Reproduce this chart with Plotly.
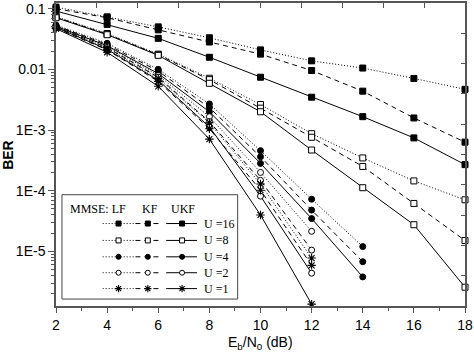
import plotly.graph_objects as go

# ---------------- data ----------------
ebn0 = [2, 4, 6, 8, 10, 12, 14, 16, 18]          # Eb/N0 (dB)

ber_u16_lf = [0.106, 0.0733, 0.0501, 0.0331, 0.0209, 0.0138, 0.0105, 0.00708, 0.00468]
ber_u16_kf = [0.100, 0.0708, 0.0447, 0.0282, 0.0178, 0.00955, 0.00437, 0.00158, 0.000631]
ber_u16_ukf = [0.0912, 0.0550, 0.0324, 0.0158, 0.00741, 0.00347, 0.00166, 0.000741, 0.000269]

ber_u8_lf = [0.0741, 0.0389, 0.0178, 0.00713, 0.00263, 0.000871, 0.000347, 0.000145, 7.08e-5]
ber_u8_kf = [0.0724, 0.0380, 0.0174, 0.00676, 0.00229, 0.000759, 0.000251, 6.17e-5, 1.51e-5]
ber_u8_ukf = [0.0708, 0.0372, 0.0170, 0.00589, 0.00200, 0.000468, 0.000112, 2.75e-5, 2.57e-6]

ber_u4_lf = [0.0537, 0.0269, 0.0100, 0.00269, 0.000457, 7.24e-5, 1.20e-5]
ber_u4_kf = [0.0525, 0.0257, 0.00933, 0.00234, 0.000363, 4.79e-5, 6.76e-6]
ber_u4_ukf = [0.0513, 0.0245, 0.00851, 0.00200, 0.000282, 3.47e-5, 3.80e-6]

ber_u2_lf = [0.0513, 0.0240, 0.00794, 0.00166, 0.000200, 2.14e-5]
ber_u2_kf = [0.0501, 0.0229, 0.00741, 0.00138, 0.000148, 1.05e-5]
ber_u2_ukf = [0.0490, 0.0214, 0.00661, 0.00112, 8.13e-5, 4.37e-6]

ber_u1_lf = [0.0501, 0.0224, 0.00708, 0.00132, 0.000129, 7.76e-6]
ber_u1_kf = [0.0479, 0.0209, 0.00631, 0.00105, 0.000102, 5.89e-6]
ber_u1_ukf = [0.0468, 0.0191, 0.00525, 0.000708, 3.98e-5, 1.35e-6]

u_labels = ["U =16", "U =8", "U =4", "U =2", "U =1"]
method_labels = ["LF", "KF", "UKF"]
y_tickvals = [1e-1, 1e-2, 1e-3, 1e-4, 1e-5]
y_ticktext = ["0.1", "0.01", "1E-3", "1E-4", "1E-5"]
x_tickvals = [2, 4, 6, 8, 10, 12, 14, 16, 18]

# ---------------- styles ----------------
markers = [
    dict(symbol="square", color="black", size=6, line=dict(color="black", width=1)),
    dict(symbol="square", color="white", size=6, line=dict(color="black", width=1)),
    dict(symbol="circle", color="black", size=6, line=dict(color="black", width=1)),
    dict(symbol="circle", color="white", size=6, line=dict(color="black", width=1)),
    dict(symbol="asterisk-open", color="black", size=7, line=dict(color="black", width=1.1)),
]
dashes = ["1px,2px", "5px,4px", "solid"]

series = [
    [ber_u16_lf, ber_u16_kf, ber_u16_ukf],
    [ber_u8_lf, ber_u8_kf, ber_u8_ukf],
    [ber_u4_lf, ber_u4_kf, ber_u4_ukf],
    [ber_u2_lf, ber_u2_kf, ber_u2_ukf],
    [ber_u1_lf, ber_u1_kf, ber_u1_ukf],
]

fig = go.Figure()
for ui, group in enumerate(series):
    for mi, vals in enumerate(group):
        fig.add_trace(go.Scatter(
            x=ebn0[:len(vals)], y=vals, mode="lines+markers",
            line=dict(color="black", width=1, dash=dashes[mi]),
            marker=markers[ui], showlegend=False, cliponaxis=False,
            name=f"{method_labels[mi]} {u_labels[ui]}",
        ))

# ---------------- custom legend (pixel-like overlay axis) ----------------
L, R, T, B = 56, 468, 1, 306
row_y = [223, 240, 256.5, 272.5, 288.5]
seg = [(103, 136, 119), (136, 161, 148.5), (167, 198, 183)]
for ui in range(5):
    for mi, (xa, xb, xm) in enumerate(seg):
        fig.add_trace(go.Scatter(
            x=[xa, xb], y=[row_y[ui]] * 2, mode="lines", xaxis="x3", yaxis="y3",
            line=dict(color="black", width=1, dash=dashes[mi]), showlegend=False,
            hoverinfo="skip"))
        mk = dict(markers[ui]); mk["size"] = mk["size"] - 1
        fig.add_trace(go.Scatter(
            x=[xm], y=[row_y[ui]], mode="markers", xaxis="x3", yaxis="y3",
            marker=mk, showlegend=False, hoverinfo="skip"))

# dummy trace for the top/right tick axes
fig.add_trace(go.Scatter(x=[None], y=[None], xaxis="x2", yaxis="y2", showlegend=False))

serif = dict(family="Liberation Serif, Times New Roman, serif", size=12, color="black")
annotations = [
    dict(x=68, y=208.5, xref="x3", yref="y3", text="MMSE: LF", showarrow=False,
         xanchor="left", yanchor="middle", font=serif),
    dict(x=151, y=208.5, xref="x3", yref="y3", text="KF", showarrow=False,
         xanchor="center", yanchor="middle", font=serif),
    dict(x=184, y=208.5, xref="x3", yref="y3", text="UKF", showarrow=False,
         xanchor="center", yanchor="middle", font=serif),
]
for ui in range(5):
    annotations.append(dict(x=203, y=row_y[ui], xref="x3", yref="y3", text=u_labels[ui],
                            showarrow=False, xanchor="left", yanchor="middle", font=serif))

sans = "Arial, Liberation Sans, sans-serif"
annotations.append(dict(x=(7 - L) / (R - L), y=0.5, xref="paper", yref="paper", text="<b>BER</b>",
                        textangle=-90, showarrow=False, xanchor="center", yanchor="middle",
                        font=dict(family=sans, size=14, color="black")))
annotations.append(dict(x=0.5, y=(B - 343) / (B - T), xref="paper", yref="paper",
                        text="E<sub>b</sub>/N<sub>0</sub> (dB)", showarrow=False,
                        xanchor="center", yanchor="middle",
                        font=dict(family=sans, size=14, color="black")))

axcol = "#555555"
minor_y = [m * 10.0 ** e for e in range(-7, 0) for m in range(2, 10)]

fig.update_layout(
    width=474, height=353,
    margin=dict(l=L, r=474 - R, t=T, b=353 - B, pad=0),
    paper_bgcolor="white", plot_bgcolor="white",
    showlegend=False,
    font=dict(family=sans, size=14, color="black"),
    xaxis=dict(range=[2, 18], tickvals=x_tickvals, ticks="outside", ticklen=5, tickwidth=1,
               tickcolor=axcol, showline=True, linecolor=axcol, linewidth=1.5,
               showgrid=False, zeroline=False, tickfont=dict(size=14),
               ticklabeloverflow="allow",
               minor=dict(tickvals=[3, 5, 7, 9, 11, 13, 15, 17], ticks="outside", ticklen=3,
                          tickcolor=axcol, showgrid=False)),
    yaxis=dict(type="log", range=[-5.9, -0.907], tickvals=y_tickvals, ticktext=y_ticktext,
               ticks="outside", ticklen=6, tickwidth=1, tickcolor=axcol,
               showline=True, linecolor=axcol, linewidth=1.5, showgrid=False, zeroline=False,
               tickfont=dict(size=14), ticklabeloverflow="allow",
               minor=dict(tickvals=minor_y, ticks="outside", ticklen=3, tickcolor=axcol,
                          showgrid=False)),
    xaxis2=dict(overlaying="x", side="top", anchor="y2", range=[0, 10], dtick=1, tick0=0,
                ticks="inside", ticklen=5, tickcolor=axcol, showticklabels=False,
                showline=True, linecolor=axcol, linewidth=2, showgrid=False, zeroline=False),
    yaxis2=dict(overlaying="y", side="right", anchor="x2", range=[0, 10], dtick=1, tick0=0,
                ticks="inside", ticklen=4, tickcolor=axcol, showticklabels=False,
                showline=True, linecolor=axcol, linewidth=1.5, showgrid=False, zeroline=False),
    xaxis3=dict(overlaying="x", range=[L, R], visible=False, anchor="y3"),
    yaxis3=dict(overlaying="y", range=[B, T], visible=False, anchor="x3"),
    annotations=annotations,
    shapes=[dict(type="rect", xref="x3", yref="y3", x0=62, x1=239, y0=194, y1=299,
                 line=dict(color="#444444", width=1), fillcolor="rgba(0,0,0,0)", layer="above")],
)

fig.write_html("out.html")
